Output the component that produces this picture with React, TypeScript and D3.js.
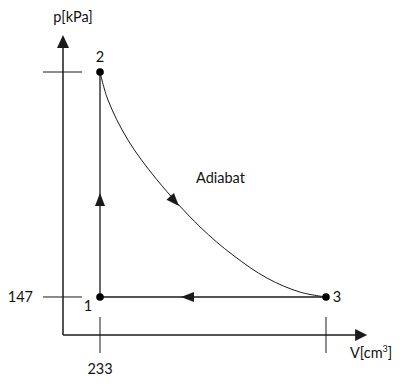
import React from "react";
import * as d3 from "d3";

// state points (V in cm³, p in kPa)
const stateLabels = ["1", "2", "3"];
const stateV = [233, 233, 1656];
const stateP = [147, 1017, 147];

// adiabat 2 -> 3
const adiabatV = [233, 283, 409, 592, 863, 1070, 1285, 1492, 1656];
const adiabatP = [1017, 909, 754, 600, 418, 309, 220, 166, 147];

// tick labels
const xTickValues = [233, 1656];
const xTickLabels = ["233", ""];
const yTickValues = [147, 1017];
const yTickLabels = ["147", ""];

// axis extents
const axisMaxV = 1915;
const axisMaxP = 1160;

// direction arrows: tip positions (V, p)
const arrowTipV = [233, 743, 730];
const arrowTipP = [549, 147, 499];
const arrowDirFromV = [233, 900, 640];
const arrowDirFromP = [400, 147, 560];

const W = 402;
const H = 387;

export default function App() {
  const x = d3.scaleLinear().domain([0, 1656]).range([63, 326]);
  const y = d3.scaleLinear().domain([0, 1017]).range([335, 72]);

  const ox = x(0);
  const oy = y(0);

  const curve = d3
    .line<number>()
    .x((_, i) => x(adiabatV[i]))
    .y((_, i) => y(adiabatP[i]))
    .curve(d3.curveCatmullRom.alpha(0.5));

  const tri = (tx: number, ty: number, ang: number, len: number, wid: number) => {
    const c = Math.cos(ang), s = Math.sin(ang);
    const bx = tx - c * len, by = ty - s * len;
    const px = -s * wid / 2, py = c * wid / 2;
    return `M${tx},${ty}L${bx + px},${by + py}L${bx - px},${by - py}Z`;
  };

  const font = "Lato, 'Open Sans', sans-serif";
  const stroke = "#1a1a1a";

  return (
    <svg width={W} height={H} style={{ position: "absolute", left: 0, top: 0, background: "#fff" }} fontFamily={font}>
      <rect width={W} height={H} fill="#fff" />
      {/* axes */}
      <line x1={ox} y1={oy} x2={ox} y2={y(axisMaxP) + 10} stroke={stroke} strokeWidth={1.5} />
      <path d={tri(ox, y(axisMaxP), -Math.PI / 2, 13, 12)} fill={stroke} />
      <line x1={ox} y1={oy} x2={x(axisMaxV) - 10} y2={oy} stroke={stroke} strokeWidth={1.5} />
      <path d={tri(x(axisMaxV), oy, 0, 12, 12)} fill={stroke} />

      {/* ticks */}
      {yTickValues.map((v, i) => (
        <g key={"yt" + i}>
          <line x1={ox - 20} x2={ox + 19} y1={y(v)} y2={y(v)} stroke={stroke} strokeWidth={1} />
          {yTickLabels[i] && (
            <text x={ox - 30} y={y(v)} dy="0.35em" textAnchor="end" fontSize={14.5} fill="#111">
              {yTickLabels[i]}
            </text>
          )}
        </g>
      ))}
      {xTickValues.map((v, i) => (
        <g key={"xt" + i}>
          <line x1={x(v)} x2={x(v)} y1={oy - 18} y2={oy + 18} stroke={stroke} strokeWidth={1} />
          {xTickLabels[i] && (
            <text x={x(v)} y={oy + 34} dy="0.35em" textAnchor="middle" fontSize={14.5} fill="#111">
              {xTickLabels[i]}
            </text>
          )}
        </g>
      ))}

      {/* axis titles */}
      <text x={73} y={17} dy="0.35em" textAnchor="middle" fontSize={14.5} fill="#111">p[kPa]</text>
      <text x={350} y={358} fontSize={14.5} fill="#111">
        V[cm<tspan dy={-6} fontSize={9}>3</tspan><tspan dy={6}>]</tspan>
      </text>

      {/* process lines */}
      <line x1={x(stateV[0])} y1={y(stateP[0])} x2={x(stateV[1])} y2={y(stateP[1])} stroke={stroke} strokeWidth={1.3} />
      <line x1={x(stateV[2])} y1={y(stateP[2])} x2={x(stateV[0])} y2={y(stateP[0])} stroke={stroke} strokeWidth={1.3} />
      <path d={curve(adiabatV) || ""} fill="none" stroke={stroke} strokeWidth={1} />

      {/* direction arrows */}
      {arrowTipV.map((v, i) => {
        const tx = x(v), ty = y(arrowTipP[i]);
        const fx = x(arrowDirFromV[i]), fy = y(arrowDirFromP[i]);
        const ang = Math.atan2(ty - fy, tx - fx);
        return <path key={"a" + i} d={tri(tx, ty, ang, 13, 10)} fill={stroke} />;
      })}

      {/* state points */}
      {stateV.map((v, i) => (
        <circle key={"p" + i} cx={x(v)} cy={y(stateP[i])} r={3.8} fill="#000" />
      ))}
      <text x={x(stateV[0]) - 12} y={y(stateP[0]) + 9} dy="0.35em" textAnchor="middle" fontSize={14.5} fill="#111">{stateLabels[0]}</text>
      <text x={x(stateV[1])} y={y(stateP[1]) - 15} dy="0.35em" textAnchor="middle" fontSize={14.5} fill="#111">{stateLabels[1]}</text>
      <text x={x(stateV[2]) + 11} y={y(stateP[2])} dy="0.35em" textAnchor="middle" fontSize={14.5} fill="#111">{stateLabels[2]}</text>

      <text x={196} y={178} dy="0.35em" fontSize={14.5} fill="#111">Adiabat</text>
    </svg>
  );
}
